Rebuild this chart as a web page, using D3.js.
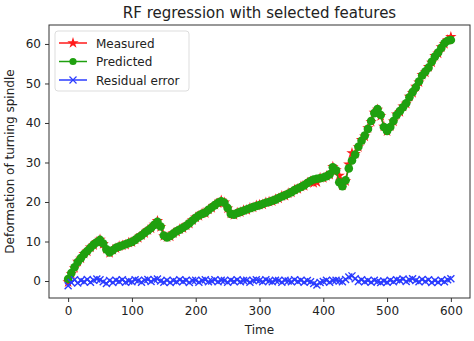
<!DOCTYPE html>
<html>
<head>
<meta charset="utf-8">
<script src="https://cdn.jsdelivr.net/npm/d3@7"></script>
<style>
  body { margin: 0; background: #fff; }
  svg text { font-family: "DejaVu Sans", sans-serif; fill: #222; }
</style>
</head>
<body>
<div id="chart"></div>
<script>
// time samples, every 5 units
var times = d3.range(0, 601, 5);

var predicted = [
  0.5, 2.0, 3.5, 4.8, 5.8, 6.8, 7.6, 8.4, 9.2, 9.8,
  10.4, 9.5, 8.0, 7.2, 7.8, 8.4, 8.7, 9.0, 9.3, 9.6,
  9.9, 10.4, 11.0, 11.5, 12.2, 12.8, 13.4, 14.2, 15.0, 13.8,
  11.5, 11.0, 11.4, 12.0, 12.6, 13.0, 13.5, 14.0, 14.6, 15.3,
  16.0, 16.6, 17.0, 17.3, 18.0, 18.6, 19.2, 19.8, 20.2, 19.8,
  18.5, 17.0, 16.8, 17.2, 17.5, 17.8, 18.1, 18.4, 18.7, 19.0,
  19.2, 19.5, 19.8, 20.0, 20.3, 20.6, 21.0, 21.4, 21.7, 22.1,
  22.5, 23.0, 23.4, 23.8, 24.2, 24.8, 25.3, 25.7, 25.9, 26.0,
  26.2, 26.5, 27.0, 28.8, 28.0, 25.0, 24.0, 25.5, 28.5, 30.5,
  32.0, 34.0, 35.5, 36.8, 38.5, 40.5, 42.5, 43.5, 42.0, 39.0,
  38.0, 39.0, 40.5, 42.0, 43.0, 44.0, 45.0, 46.5, 47.8, 49.0,
  50.5, 52.0, 53.0, 54.0, 55.5, 56.8, 57.8, 59.0, 60.2, 60.8,
  61.0
];

var measured = [
  -0.3, 1.8, 3.3, 4.9, 5.7, 6.9, 7.5, 8.5, 9.1, 9.9,
  10.5, 9.4, 8.1, 7.1, 7.9, 8.3, 8.8, 9.0, 9.2, 9.7,
  9.8, 10.5, 10.9, 11.6, 12.1, 12.9, 13.3, 14.3, 15.2, 13.7,
  11.4, 11.1, 11.3, 12.1, 12.5, 13.1, 13.4, 14.1, 14.5, 15.4,
  16.1, 16.5, 17.1, 17.2, 18.1, 18.5, 19.3, 19.7, 20.4, 19.9,
  18.4, 17.1, 16.7, 17.3, 17.4, 17.9, 18.0, 18.5, 18.6, 19.1,
  19.3, 19.4, 19.9, 20.1, 20.2, 20.7, 20.9, 21.5, 21.6, 22.2,
  22.4, 23.1, 23.3, 23.9, 24.1, 24.9, 25.2, 24.8, 25.0, 26.1,
  26.1, 26.6, 26.9, 28.9, 28.1, 26.7, 24.2, 25.3, 29.5, 32.4,
  32.2, 33.9, 35.7, 36.6, 38.7, 40.3, 42.6, 43.4, 41.8, 39.1,
  37.9, 39.2, 40.4, 42.2, 42.8, 44.2, 44.9, 46.7, 47.6, 49.2,
  50.3, 52.2, 52.8, 54.2, 55.3, 57.0, 57.6, 59.2, 60.0, 61.0,
  61.8
];

var residual = [
  -1.2, -0.4, 0.3, -0.5, 0.1, -0.2, 0.4, -0.3, 0.2, 0.5,
  0.3, -0.2, -0.6, 0.1, -0.4, 0.2, -0.1, 0.3, -0.3, 0.0,
  -0.2, 0.3, 0.1, -0.3, 0.2, 0.4, -0.1, 0.3, 0.5, 0.0,
  -0.3, 0.2, -0.4, 0.1, -0.2, 0.3, -0.1, 0.2, -0.4, 0.1,
  0.2, -0.3, 0.1, 0.3, -0.2, 0.0, 0.3, -0.2, 0.2, 0.1,
  -0.3, 0.2, -0.1, 0.3, -0.2, 0.1, 0.2, -0.3, 0.1, 0.3,
  0.1, -0.2, 0.3, 0.0, -0.2, 0.2, 0.1, -0.3, 0.2, 0.0,
  -0.2, 0.3, -0.1, 0.2, -0.3, 0.1, -0.2, -0.6, -1.0, -0.4,
  -0.1, 0.2, -0.3, 0.1, 0.2, 0.0, -0.2, 0.4, 1.0, 1.3,
  0.6, -0.1, 0.3, -0.2, 0.1, -0.3, 0.2, -0.1, -0.4, 0.0,
  -0.3, 0.2, -0.2, 0.3, 0.1, 0.5, -0.1, 0.3, 0.6, 0.1,
  -0.2, 0.4, -0.1, 0.3, -0.4, 0.1, -0.3, 0.2, -0.2, 0.3,
  0.6
];

var xTicks = [0, 100, 200, 300, 400, 500, 600];
var yTicks = [0, 10, 20, 30, 40, 50, 60];
var seriesNames = ["Measured", "Predicted", "Residual error"];
var seriesColors = ["#ff1a1a", "#1fa00f", "#2b3cff"];

var width = 474, height = 341;
var margin = {top: 25, right: 4, bottom: 43, left: 49};

var svg = d3.select("#chart").append("svg")
    .attr("width", width)
    .attr("height", height);

var x = d3.scaleLinear().domain([-30, 630]).range([margin.left, width - margin.right]);
var y = d3.scaleLinear().domain([-4.3, 64.8]).range([height - margin.bottom, margin.top]);

var xAxis = svg.append("g")
    .attr("transform", "translate(0," + (height - margin.bottom) + ")")
    .call(d3.axisBottom(x).tickValues(xTicks).tickSize(4).tickPadding(4));
var yAxis = svg.append("g")
    .attr("transform", "translate(" + margin.left + ",0)")
    .call(d3.axisLeft(y).tickValues(yTicks).tickSize(4).tickPadding(4));

[xAxis, yAxis].forEach(function(a) {
  a.select(".domain").remove();
  a.selectAll("text").style("font-size", "12px").attr("fill", "#222");
  a.selectAll("line").attr("stroke", "#333");
});

// frame
svg.append("rect")
    .attr("x", margin.left).attr("y", margin.top)
    .attr("width", width - margin.left - margin.right)
    .attr("height", height - margin.top - margin.bottom)
    .attr("fill", "none").attr("stroke", "#333").attr("stroke-width", 1);

var plot = svg.append("g");

function pts(vals) {
  return vals.map(function(v, i) { return [times[i], v]; });
}
var line = d3.line().x(function(d) { return x(d[0]); }).y(function(d) { return y(d[1]); });

var star = d3.symbol().type(d3.symbolStar).size(40);
// matplotlib style "x" marker, stroked
var xMark = "M-3.5,-3.5L3.5,3.5M-3.5,3.5L3.5,-3.5";

// measured
plot.append("path").datum(pts(measured)).attr("d", line)
    .attr("fill", "none").attr("stroke", seriesColors[0]).attr("stroke-width", 1.5);
plot.selectAll(".m").data(pts(measured)).enter().append("path")
    .attr("d", star)
    .attr("transform", function(d) { return "translate(" + x(d[0]) + "," + y(d[1]) + ")"; })
    .attr("fill", seriesColors[0]);

// predicted
plot.append("path").datum(pts(predicted)).attr("d", line)
    .attr("fill", "none").attr("stroke", seriesColors[1]).attr("stroke-width", 1.5);
plot.selectAll(".p").data(pts(predicted)).enter().append("circle")
    .attr("cx", function(d) { return x(d[0]); })
    .attr("cy", function(d) { return y(d[1]); })
    .attr("r", 4.3)
    .attr("fill", seriesColors[1]);

// residual
plot.append("path").datum(pts(residual)).attr("d", line)
    .attr("fill", "none").attr("stroke", seriesColors[2]).attr("stroke-width", 1.5);
plot.selectAll(".r").data(pts(residual)).enter().append("path")
    .attr("d", xMark)
    .attr("transform", function(d) { return "translate(" + x(d[0]) + "," + y(d[1]) + ")"; })
    .attr("fill", "none").attr("stroke", seriesColors[2]).attr("stroke-width", 1.4);

// title and labels
svg.append("text")
    .attr("x", (margin.left + width - margin.right) / 2).attr("y", 18)
    .attr("text-anchor", "middle").style("font-size", "15px")
    .text("RF regression with selected features");
svg.append("text")
    .attr("x", (margin.left + width - margin.right) / 2).attr("y", 334)
    .attr("text-anchor", "middle").style("font-size", "12px")
    .text("Time");
svg.append("text")
    .attr("transform", "translate(14," + ((margin.top + height - margin.bottom) / 2) + ") rotate(-90)")
    .attr("text-anchor", "middle").style("font-size", "12px")
    .text("Deformation of turning spindle");

// legend
var legend = svg.append("g").attr("transform", "translate(55,31)");
legend.append("rect")
    .attr("width", 134).attr("height", 60).attr("rx", 3)
    .attr("fill", "#fff").attr("fill-opacity", 0.8)
    .attr("stroke", "#ddd");
seriesNames.forEach(function(name, i) {
  var ly = 12 + i * 18.5;
  legend.append("line")
      .attr("x1", 4).attr("x2", 32).attr("y1", ly).attr("y2", ly)
      .attr("stroke", seriesColors[i]).attr("stroke-width", 1.5);
  if (i === 0) {
    legend.append("path").attr("d", star)
        .attr("transform", "translate(18," + ly + ")").attr("fill", seriesColors[i]);
  } else if (i === 1) {
    legend.append("circle").attr("cx", 18).attr("cy", ly).attr("r", 3.6).attr("fill", seriesColors[i]);
  } else {
    legend.append("path").attr("d", xMark)
        .attr("transform", "translate(18," + ly + ")")
        .attr("fill", "none").attr("stroke", seriesColors[i]).attr("stroke-width", 1.2);
  }
  legend.append("text")
      .attr("x", 41).attr("y", ly + 4.5)
      .style("font-size", "12px")
      .text(name);
});
</script>
</body>
</html>
